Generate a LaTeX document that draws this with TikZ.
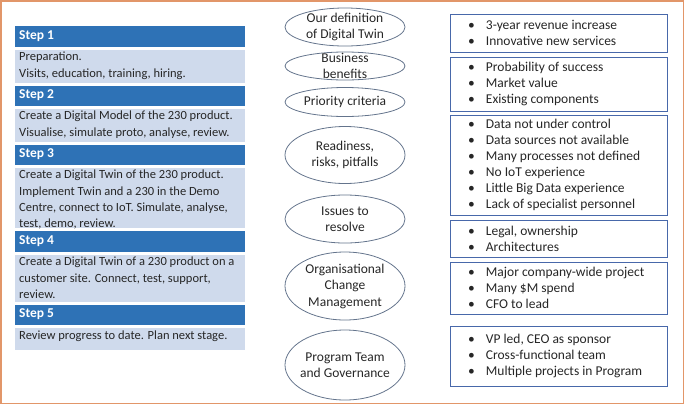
\documentclass[tikz,border=0pt]{standalone}
\usepackage{fontspec}
\setmainfont{Carlito}
\definecolor{hdr}{RGB}{46,114,182}
\definecolor{bdy}{RGB}{207,218,236}
\definecolor{bx}{RGB}{72,104,170}
\definecolor{el}{RGB}{100,116,140}
\definecolor{fr}{RGB}{226,150,105}
\begin{document}
\begin{tikzpicture}[x=1pt,y=-1pt,
  hdrbox/.style={fill=hdr,draw=white,line width=0.8pt},
  bdybox/.style={fill=bdy,draw=white,line width=0.8pt},
  hdrtxt/.style={anchor=west,text=white,font=\fontsize{13.5}{15}\selectfont\bfseries,inner sep=0},
  bdytxt/.style={anchor=north west,align=left,font=\fontsize{12.5}{16.2}\selectfont,inner sep=0,text=black!85},
  elltxt/.style={align=center,font=\fontsize{13.5}{16.5}\selectfont,inner sep=0,text=black!85},
  lst/.style={draw=bx,line width=1pt},
  lsttxt/.style={anchor=west,align=left,font=\fontsize{13.5}{16}\selectfont,inner sep=0,text=black!85}]
\useasboundingbox (0,0) rectangle (685,405);
\draw[fr,line width=1.5pt] (0.8,0.8) rectangle (683.5,403.5);
% left column
\foreach \a/\b/\c/\d/\n in {25/47/49/83/1,85/106/108/142/2,144/165/167/228/3,230/252/254/302/4,304/325/327/350/5}{
  \fill[hdrbox] (14,\a) rectangle (245,\b);
  \fill[bdybox] (14,\c) rectangle (245,\d);
  \node[hdrtxt] (h\n) at (19,{(\a+\b)/2}) {Step \n};
}
\node[bdytxt] (t1) at (19,52) {Preparation.\\Visits, education, training, hiring.};
\node[bdytxt] (t2) at (19,111) {Create a Digital Model of the 230 product.\\Visualise, simulate proto, analyse, review.};
\node[bdytxt] (t3) at (19,170) {Create a Digital Twin of the 230 product.\\Implement Twin and a 230 in the Demo\\Centre, connect to IoT. Simulate, analyse,\\test, demo, review.};
\node[bdytxt] (t4) at (19,257) {Create a Digital Twin of a 230 product on a\\customer site. Connect, test, support,\\review.};
\node[bdytxt] (t5) at (19,331) {Review progress to date. Plan next stage.};
% ellipses
\foreach \y/\h/\n in {27/38/1,66/28/2,102/29/3,155/57/4,219/48/5,286/68/6,365/70/7}{
  \draw[el,line width=0.8pt] (345,\y) ellipse [x radius=60, y radius=\h/2];
  \coordinate (e\n) at (345,\y);
}
\node[elltxt] (l1) at (e1) {Our definition\\of Digital Twin};
\node[elltxt] (l2) at (e2) {Business\\benefits};
\node[elltxt] (l3) at (e3) {Priority criteria};
\node[elltxt] (l4) at (e4) {Readiness,\\risks, pitfalls};
\node[elltxt] (l5) at (e5) {Issues to\\resolve};
\node[elltxt] (l6) at (e6) {Organisational\\Change\\Management};
\node[elltxt] (l7) at (e7) {Program Team\\and Governance};
% right boxes
\foreach \a/\b/\n in {14/52/1,57/111/2,115/215/3,220/257/4,262/314/5,326/386/6}{
  \draw[lst] (450,\a) rectangle (667,\b);
  \coordinate (b\n) at (468,{(\a+\b)/2});
}
\newcommand{\bl}{\textbullet\hspace{11pt}}
\node[lsttxt] (r1) at (b1) {\bl 3-year revenue increase\\\bl Innovative new services};
\node[lsttxt] (r2) at (b2) {\bl Probability of success\\\bl Market value\\\bl Existing components};
\node[lsttxt] (r3) at (b3) {\bl Data not under control\\\bl Data sources not available\\\bl Many processes not defined\\\bl No IoT experience\\\bl Little Big Data experience\\\bl Lack of specialist personnel};
\node[lsttxt] (r4) at (b4) {\bl Legal, ownership\\\bl Architectures};
\node[lsttxt] (r5) at (b5) {\bl Major company-wide project\\\bl Many \$M spend\\\bl CFO to lead};
\node[lsttxt] (r6) at (b6) {\bl VP led, CEO as sponsor\\\bl Cross-functional team\\\bl Multiple projects in Program};
\end{tikzpicture}
\end{document}
